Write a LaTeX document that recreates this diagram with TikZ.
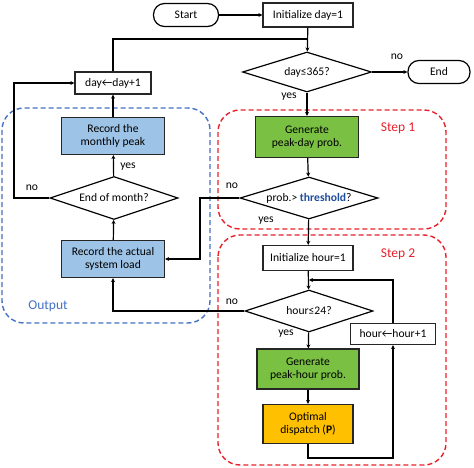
\documentclass[tikz,border=0pt]{standalone}
\usepackage{fontspec}
\setmainfont{Carlito}
\usetikzlibrary{shapes.geometric,arrows.meta}
\definecolor{gfill}{HTML}{7AC143}
\definecolor{bfill}{HTML}{9DC3E6}
\definecolor{ofill}{HTML}{FFC000}
\definecolor{thr}{HTML}{1F4E9E}
\definecolor{outb}{HTML}{4472C4}
\definecolor{stepred}{HTML}{E8202A}
\tikzset{
  box/.style={draw=black!85, line width=1.2pt, minimum height=#1, align=center, inner sep=1pt},
  box/.default=22pt,
  pill/.style={draw=black, line width=1.2pt, rounded corners=11pt, minimum height=23pt},
  dia/.style={draw=black, line width=1.2pt, diamond, aspect=3, inner sep=0pt},
  conn/.style={line width=1.2pt, -{Stealth[length=4pt,width=4pt]}},
  line/.style={line width=1.2pt},
  grp/.style={dashed, line width=1.4pt, rounded corners=22pt, dash pattern=on 5pt off 3pt},
}
\begin{document}
\begin{tikzpicture}[x=1pt,y=-1pt,font=\fontsize{11.6}{13.5}\selectfont]
\useasboundingbox (0,0) rectangle (474,468);
% groups
\draw[grp, draw=outb] (2,108) rectangle (210,323);
\draw[grp, draw=stepred] (218,110) rectangle (446,229);
\draw[grp, draw=stepred] (218,235) rectangle (446,465);
\node[text=outb, font=\fontsize{13.5}{14}\selectfont] (outlab) at (48,306) {Output};
\node[text=stepred, font=\fontsize{13.5}{14}\selectfont] (s1lab) at (398,128) {Step 1};
\node[text=stepred, font=\fontsize{13.5}{14}\selectfont] (s2lab) at (398,254) {Step 2};
% nodes
\node[pill, minimum width=65pt] (start) at (186,15) {Start};
\node[box=24pt, minimum width=90pt] (initd) at (308,15) {Initialize day=1};
\node[dia, minimum width=129pt, minimum height=40pt] (dd) at (307,72) {day≤365?};
\node[pill, minimum width=62pt] (end) at (439,72) {End};
\node[box=41pt, minimum width=103pt, fill=gfill] (gday) at (307,137) {Generate\\peak-day prob.};
\node[dia, minimum width=138pt, minimum height=42pt] (thrd) at (309,198) {prob.> \textbf{\textcolor{thr}{threshold}}?};
\node[box=25pt, minimum width=90pt] (inith) at (308,258) {Initialize hour=1};
\node[dia, minimum width=128pt, minimum height=42pt] (hd) at (309,311) {hour≤24?};
\node[box=40pt, minimum width=102pt, fill=gfill] (ghour) at (308,369) {Generate\\peak-hour prob.};
\node[box=39pt, minimum width=90pt, fill=ofill] (opt) at (308,424) {Optimal\\dispatch (\textbf{P})};
\node[box=21pt, minimum width=85pt] (hinc) at (393,334) {hour←hour+1};
\node[box=22pt, minimum width=76pt] (dinc) at (113,83) {day←day+1};
\node[box=37pt, minimum width=103pt, fill=bfill] (rpeak) at (113,136) {Record the\\monthly peak};
\node[dia, minimum width=128pt, minimum height=43pt] (eom) at (114,198) {End of month?};
\node[box=37pt, minimum width=103pt, fill=bfill] (rload) at (113,259) {Record the actual\\system load};
% coordinates
\coordinate (j1) at (308,39);
\coordinate (j3) at (309,280);
% connectors
\draw[conn] (start) -- (initd);
\draw[conn] (initd) -- (dd);
\draw[line] (dinc.north) |- (j1);
\draw[conn] (dd) -- (end);
\node (no1) at (397,57) {no};
\node (yes1) at (289,97) {yes};
\draw[conn] (dd) -- (gday);
\draw[conn] (gday) -- (thrd);
\node (yes2) at (266,221) {yes};
\draw[conn] (thrd) -- (inith);
\node (no2) at (232,186) {no};
\draw[conn] (thrd.west) -- (200,198) |- (rload.east);
\draw[conn] (inith) -- (hd);
\node (yes3) at (286,334) {yes};
\draw[conn] (hd) -- (ghour);
\node (no3) at (232,302) {no};
\draw[conn] (hd.west) -| (rload.south);
\draw[conn] (ghour) -- (opt);
\draw[conn] (opt.south) -- (308,458) -| (hinc.south);
\draw[conn] (hinc.north) |- (j3);
\draw[conn] (rload) -- (eom);
\draw[conn] (eom) -- (rpeak);
\node (yes4) at (128,167) {yes};
\draw[conn] (rpeak) -- (dinc);
\node (no4) at (32,188) {no};
\draw[conn] (eom.west) -- (14,198) |- (dinc.west);
\end{tikzpicture}
\end{document}
